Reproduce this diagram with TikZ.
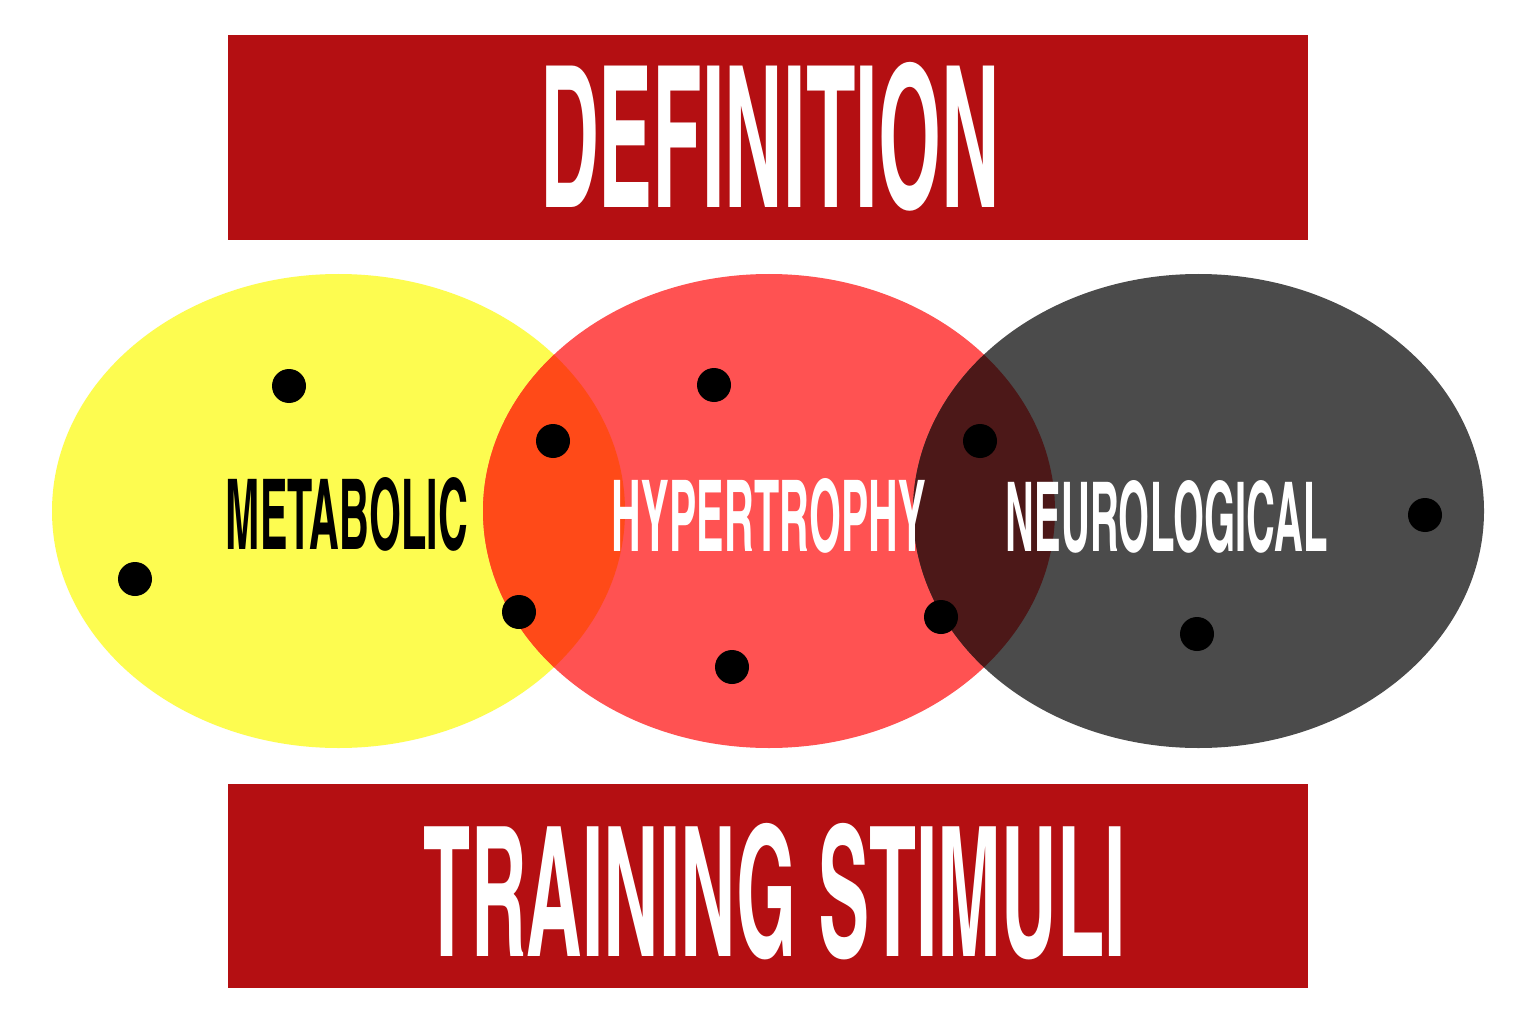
\documentclass[tikz,border=0pt]{standalone}
\usepackage{fontspec}
\usepackage{graphicx}
\newfontfamily\condfont{TeX Gyre Heros Cn}[BoldFont={* Bold}]
\definecolor{bannerred}{RGB}{180,15,18}
\definecolor{ellyellow}{RGB}{253,252,80}
\definecolor{ellred}{RGB}{255,82,82}
\definecolor{ellgray}{RGB}{75,75,75}
\definecolor{ovorange}{RGB}{255,74,24}
\definecolor{ovmaroon}{RGB}{76,24,24}
\tikzset{
  banner/.style={fill=bannerred},
  dot/.style={fill=black},
  bigtext/.style={inner sep=0pt, text=white},
  label/.style={inner sep=0pt},
}
\newcommand{\fitword}[3]{\resizebox{#1pt}{#2pt}{\condfont\bfseries #3}}
\begin{document}
\begin{tikzpicture}[x=1pt,y=-1pt]
\useasboundingbox (0,0) rectangle (1536,1024);
\fill[white] (0,0) rectangle (1536,1024);
% banners
\fill[banner] (228,35) rectangle (1308,240);
\fill[banner] (228,784) rectangle (1308,988);
\node[bigtext] (def) at (770,136.5) {\fitword{460}{145}{DEFINITION}};
\node[bigtext] (stim) at (775,891.5) {\fitword{702}{133}{TRAINING STIMULI}};
% ellipses
\def\yellowell{(338.5,511) ellipse [x radius=286.5pt, y radius=237pt]}
\def\redell{(769,511) ellipse [x radius=286pt, y radius=237pt]}
\def\grayell{(1198.5,511) ellipse [x radius=285.5pt, y radius=237pt]}
\fill[ellyellow] \yellowell;
\fill[ellred] \redell;
\fill[ellgray] \grayell;
\begin{scope}
  \clip \yellowell;
  \fill[ovorange] \redell;
\end{scope}
\begin{scope}
  \clip \redell;
  \fill[ovmaroon] \grayell;
\end{scope}
% dots
\foreach \px/\py/\nm in {289/386/d1, 135/579/d2, 553/441/d3, 519/612/d4, 714/385/d5, 732/667/d6, 980/441/d7, 941/617/d8, 1425/515/d9, 1197/634/d10}{
  \fill[dot] (\px,\py) circle [radius=17pt];
}
% labels
\node[label] (met) at (347,514.5) {\fitword{242}{72}{\color{black}METABOLIC}};
\node[label] (hyp) at (769,515.5) {\fitword{314}{73}{\color{white}HYPERTROPHY}};
\node[label] (neu) at (1167,516.5) {\fitword{322}{71}{\color{white}NEUROLOGICAL}};
\end{tikzpicture}
\end{document}
